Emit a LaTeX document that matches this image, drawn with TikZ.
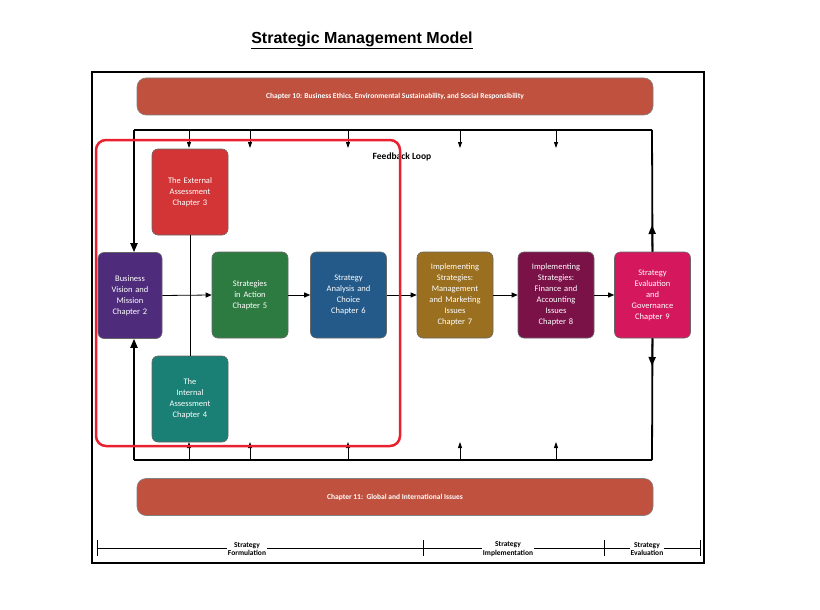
\documentclass[tikz,border=0pt]{standalone}
\usepackage{fontspec}
\setmainfont{Carlito}
\newfontfamily\arialf{Liberation Sans}
\usetikzlibrary{arrows.meta}
\definecolor{banner}{HTML}{C0513F}
\definecolor{cpurple}{HTML}{4E2C7B}
\definecolor{cred}{HTML}{D33537}
\definecolor{cgreen}{HTML}{2E7B42}
\definecolor{cblue}{HTML}{235A8A}
\definecolor{cbrown}{HTML}{9A6F1F}
\definecolor{cwine}{HTML}{7A1248}
\definecolor{cpink}{HTML}{D5185D}
\definecolor{cteal}{HTML}{1A7F74}
\definecolor{fbred}{HTML}{E8202F}
\begin{document}
\begin{tikzpicture}[x=1pt,y=-1pt,
  box/.style={draw=black!60,line width=0.6pt,rounded corners=6pt,text=white,align=center,
    font=\fontsize{8.5}{11}\selectfont,minimum width=76pt,minimum height=86pt,inner sep=1pt,text width=74pt},
  bann/.style={draw=black!50,line width=0.6pt,rounded corners=9pt,fill=banner,text=white,
    font=\bfseries\fontsize{7.5}{9}\selectfont,minimum width=516pt,minimum height=37pt},
  fb/.style={line width=1.8pt},
  big/.style={-{Triangle[length=9pt,width=7pt]}},
  small/.style={line width=0.8pt,-{Triangle[length=6pt,width=4pt]}},
  flow/.style={line width=0.8pt,-{Triangle[length=6pt,width=5pt]}},
  lbl/.style={font=\bfseries\fontsize{7.5}{8.5}\selectfont,align=center,fill=white,inner sep=1pt}]
\useasboundingbox (0,0) rectangle (820,610);
\node[font=\arialf\bfseries\fontsize{16}{18}\selectfont] (title) at (362,40) {\underline{Strategic Management Model}};
\draw[line width=2.5pt] (92,72) rectangle (704,563);
\node[bann] (top) at (395,96.5) {Chapter 10: Business Ethics, Environmental Sustainability, and Social Responsibility};
\node[bann] (bot) at (395,497) {Chapter 11:\ \ Global and International Issues};
% boxes
\node[box,fill=cpurple,minimum width=64pt,text width=62pt] (b2) at (130,295.5) {Business\\Vision and\\Mission\\Chapter 2};
\node[box,fill=cred] (b3) at (190,192) {The External\\Assessment\\Chapter 3};
\node[box,fill=cteal] (b4) at (190,399) {The\\Internal\\Assessment\\Chapter 4};
\node[box,fill=cgreen] (b5) at (250,295) {Strategies\\in Action\\Chapter 5};
\node[box,fill=cblue] (b6) at (348.5,295) {Strategy\\Analysis and\\Choice\\Chapter 6};
\node[box,fill=cbrown] (b7) at (455,295) {Implementing\\Strategies:\\Management\\and Marketing\\Issues\\Chapter 7};
\node[box,fill=cwine] (b8) at (556,295) {Implementing\\Strategies:\\Finance and\\Accounting\\Issues\\Chapter 8};
\node[box,fill=cpink] (b9) at (652.5,295) {Strategy\\Evaluation\\and\\Governance\\Chapter 9};
% feedback loop
\coordinate (tl) at (134,130); \coordinate (tr) at (652,130);
\coordinate (bl) at (134,460); \coordinate (br) at (652,460);
\draw[fb] (tl) -- (tr);
\draw[fb,big] (tl) -- (b2.north -| tl);
\draw[fb] (b9.north) -- (tr);
\draw[fb,big] (b9.north) -- (652,225);
\draw[fb] (bl) -- (br);
\draw[fb,big] (bl) -- (b2.south -| bl);
\draw[fb] (b9.south) -- (br);
\draw[fb,big] (b9.south) -- (652,366);
\foreach \x/\n in {189/a,250/b,348/c,460/d,556/e}{
  \coordinate (dt\n) at (\x,148); \coordinate (ut\n) at (\x,442);
  \draw[small] (\x,130) -- (dt\n);
  \draw[small] (\x,460) -- (ut\n);
}
\node[font=\bfseries\fontsize{9.5}{11}\selectfont] (fbl) at (402,157) {Feedback Loop};
% flow
\draw[line width=0.8pt] (b3.south) -- (b4.north);
\draw[flow] (b2.east) -- (b5.west);
\draw[flow] (b5.east) -- (b6.west);
\draw[flow] (b6.east) -- (b7.west);
\draw[flow] (b7.east) -- (b8.west);
\draw[flow] (b8.east) -- (b9.west);
% red frame
\draw[fbred,line width=2.5pt,rounded corners=10pt] (96,140) rectangle (400,446);
% scale
\coordinate (s0) at (97,548); \coordinate (s1) at (423,548); \coordinate (s2) at (604,548); \coordinate (s3) at (700,548);
\draw[line width=0.8pt] (s0) -- (s3);
\foreach \s in {s0,s1,s2,s3} \draw[line width=0.8pt] ([yshift=-8pt]\s) -- ([yshift=8pt]\s);
\node[lbl] (l1) at (247,549) {Strategy\\Formulation};
\node[lbl] (l2) at (508,549) {Strategy\\Implementation};
\node[lbl] (l3) at (647,549) {Strategy\\Evaluation};
\end{tikzpicture}
\end{document}
